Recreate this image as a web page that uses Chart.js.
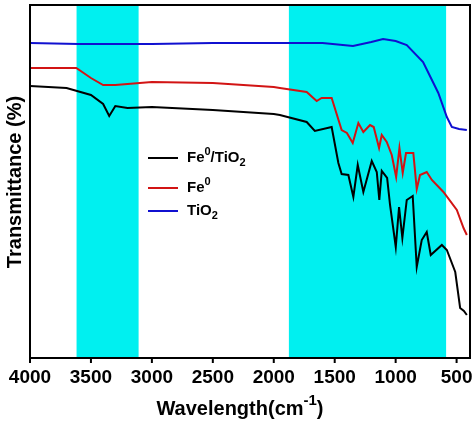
<!DOCTYPE html>
<html>
<head>
<meta charset="utf-8">
<script src="https://cdn.jsdelivr.net/npm/chart.js@4"></script>
<style>
  html, body { margin: 0; padding: 0; background: #fff; }
  #wrap { width: 474px; height: 423px; }
</style>
</head>
<body>
<div id="wrap"><canvas id="chart" width="474" height="423"></canvas></div>
<script>
// wavenumber (cm-1) -> transmittance (arbitrary units)
const fetio2X = [4000, 3700, 3500, 3400, 3350, 3300, 3200, 3000, 2500, 2000, 1950, 1730, 1663, 1525, 1470, 1443, 1388, 1347, 1311, 1265, 1196, 1155, 1134, 1114, 1070, 1046, 999, 972, 945, 909, 860, 827, 786, 745, 712, 621, 580, 511, 471, 440, 416];
const fetio2Y = [272, 270, 263, 254, 242, 252, 250, 251, 248, 244, 243, 236, 227, 231, 195, 184, 183, 161, 193, 166, 197, 186, 158, 187, 180, 153, 111, 151, 120, 158, 162, 91, 118, 126, 103, 113, 108, 86, 50, 47, 43];
const fe0X = [4000, 3620, 3500, 3400, 3300, 3000, 2500, 2000, 1950, 1730, 1648, 1607, 1525, 1443, 1400, 1352, 1306, 1265, 1210, 1180, 1136, 1114, 1073, 1032, 996, 969, 942, 915, 855, 827, 800, 745, 703, 608, 498, 443, 416];
const fe0Y = [290, 290, 280, 273, 273, 276, 275, 271, 270, 266, 257, 260, 260, 228, 225, 215, 235, 226, 233, 231, 210, 223, 216, 203, 181, 210, 185, 205, 205, 169, 183, 186, 178, 166, 148, 130, 123];
const tio2X = [4000, 3600, 3000, 2500, 2000, 1600, 1350, 1200, 1103, 1000, 909, 775, 650, 580, 539, 480, 416];
const tio2Y = [315, 314, 314, 315, 315, 315, 312, 316, 319, 317, 313, 296, 265, 241, 231, 229, 228];
const bandStarts = [3618, 1876];
const bandEnds = [3109, 586];
const xTicks = [4000, 3500, 3000, 2500, 2000, 1500, 1000, 500];
const seriesNames = ['Fe0/TiO2', 'Fe0', 'TiO2'];
const seriesColors = ['#000000', '#d21414', '#1010d0'];

const toPts = (xs, ys) => xs.map((x, i) => ({ x, y: ys[i] }));
const fam = '"Liberation Sans", Arial, sans-serif';

const decor = {
  id: 'decor',
  beforeDatasetsDraw(chart) {
    const { ctx, chartArea: a, scales: { x } } = chart;
    ctx.save();
    ctx.fillStyle = '#00f0f0';
    bandStarts.forEach((s, i) => {
      const p1 = x.getPixelForValue(s), p2 = x.getPixelForValue(bandEnds[i]);
      ctx.fillRect(p1, a.top, p2 - p1, a.bottom - a.top);
    });
    ctx.restore();
  },
  afterDraw(chart) {
    const { ctx, chartArea: a, scales: { x } } = chart;
    ctx.save();
    ctx.strokeStyle = '#000';
    ctx.lineWidth = 2;
    ctx.strokeRect(a.left, a.top, a.right - a.left, a.bottom - a.top);
    xTicks.forEach(t => {
      const px = x.getPixelForValue(t);
      ctx.beginPath(); ctx.moveTo(px, a.bottom); ctx.lineTo(px, a.bottom + 5); ctx.stroke();
    });
    ctx.fillStyle = '#000';
    // x title with superscript
    const big = 'bold 20px ' + fam, sup = 'bold 15px ' + fam;
    const t1 = 'Wavelength(cm', t2 = '-1', t3 = ')';
    ctx.font = big;
    const w1 = ctx.measureText(t1).width, w3 = ctx.measureText(t3).width;
    ctx.font = sup;
    const w2 = ctx.measureText(t2).width;
    const sx = 240 - (w1 + w2 + w3) / 2;
    ctx.font = big; ctx.fillText(t1, sx, 415);
    ctx.font = sup; ctx.fillText(t2, sx + w1, 405);
    ctx.font = big; ctx.fillText(t3, sx + w1 + w2, 415);
    // y title
    ctx.save();
    ctx.translate(21, 182);
    ctx.rotate(-Math.PI / 2);
    ctx.textAlign = 'center';
    ctx.font = big;
    ctx.fillText('Transmittance (%)', 0, 0);
    ctx.restore();
    // legend
    const rows = [
      { y: 158, parts: [['Fe', 0], ['0', -6, 1], ['/TiO', 0], ['2', 5, 1]] },
      { y: 188, parts: [['Fe', 0], ['0', -6, 1]] },
      { y: 211, parts: [['TiO', 0], ['2', 5, 1]] }
    ];
    rows.forEach((r, i) => {
      ctx.strokeStyle = seriesColors[i];
      ctx.lineWidth = 2;
      ctx.beginPath(); ctx.moveTo(148, r.y); ctx.lineTo(178, r.y); ctx.stroke();
      let tx = 187;
      r.parts.forEach(([s, dy, small]) => {
        ctx.font = small ? 'bold 11px ' + fam : 'bold 15px ' + fam;
        ctx.textBaseline = 'middle';
        ctx.fillText(s, tx, r.y + dy);
        tx += ctx.measureText(s).width;
      });
    });
    ctx.restore();
  }
};

new Chart(document.getElementById('chart'), {
  type: 'line',
  data: {
    datasets: [
      { label: seriesNames[0], data: toPts(fetio2X, fetio2Y), borderColor: seriesColors[0] },
      { label: seriesNames[1], data: toPts(fe0X, fe0Y), borderColor: seriesColors[1] },
      { label: seriesNames[2], data: toPts(tio2X, tio2Y), borderColor: seriesColors[2] }
    ]
  },
  options: {
    responsive: false,
    animation: false,
    layout: { padding: { left: 0, right: 4, top: 5, bottom: 0 } },
    elements: { point: { radius: 0 }, line: { borderWidth: 2, tension: 0 } },
    plugins: { legend: { display: false }, tooltip: { enabled: false } },
    scales: {
      x: {
        type: 'linear', reverse: true, min: 390, max: 4000,
        afterBuildTicks: s => { s.ticks = xTicks.map(v => ({ value: v })); },
        grid: { display: false, drawTicks: false },
        border: { display: false },
        ticks: { color: '#000', font: { family: fam, size: 19, weight: 'bold' }, padding: 8, maxRotation: 0, autoSkip: false, callback: v => String(v) },
        afterFit: s => { s.height = 65; s.paddingRight = 0; s.paddingLeft = 0; }
      },
      y: {
        min: 0, max: 353,
        grid: { display: false },
        border: { display: false },
        ticks: { display: false },
        afterFit: s => { s.width = 30; }
      }
    }
  },
  plugins: [decor]
});
</script>
</body>
</html>
